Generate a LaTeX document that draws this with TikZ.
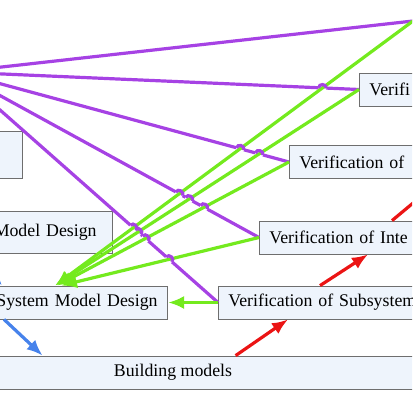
\documentclass[tikz,border=0pt]{standalone}
\usepackage{fontspec}
\setmainfont{Liberation Serif}
\usetikzlibrary{shapes,arrows.meta,calc,intersections}
\definecolor{vpurple}{RGB}{166,66,228}
\definecolor{vgreen}{RGB}{116,234,30}
\definecolor{vblue}{RGB}{70,130,235}
\definecolor{vred}{RGB}{235,20,20}
\definecolor{boxfill}{RGB}{238,244,252}
\definecolor{boxgray}{RGB}{110,110,110}
\tikzstyle{line} = [draw, line width=3.2pt, -{Latex[length=16pt,width=13pt]}]
\tikzstyle{trace} = [draw, vpurple, line width=3.2pt]
\tikzstyle{block} = [draw=boxgray, line width=0.8pt, fill=boxfill, rectangle, minimum height=33pt, font=\fontsize{17.8}{20}\selectfont]
\tikzstyle{vblock} = [block, anchor=west, text width=240pt, inner xsep=10pt, align=left]
\tikzstyle{dblock} = [block, anchor=east, text width=280pt, inner xsep=10pt, align=right]

\begin{document}
\begin{tikzpicture}[x=1pt, y=-1pt]
        \useasboundingbox (0,0) rectangle (412,412);
        \clip (0,0) rectangle (412,412);
        % design side
        \node[dblock, minimum height=47pt, text width=100pt] (req) at (23,154.5) {};
        \node[dblock, minimum height=42pt, inner xsep=16pt] (mdes) at (113,232) {Model Design};
        \node[dblock] (sysd) at (168,302.5) {System Model Design};
        \node[block, minimum width=600pt] (build) at (173,372.5) {Building models};
        % verification side
        \node[vblock] (vreq) at (359,89.5) {Verifi};
        \node[vblock] (vfun) at (289,162) {Verification of};
        \node[vblock] (vint) at (259,237.5) {Verification of Inte};
        \node[vblock] (vsub) at (218,302.5) {Verification of Subsystem};
        \coordinate (src) at (-43,72);
        \coordinate (vtop) at (413,21);
        \coordinate (t1) at ([xshift=-113pt]sysd.north east);
        \coordinate (t3) at ([xshift=-111pt]sysd.north east);
        \coordinate (t4) at ([xshift=-107pt]sysd.north east);
        % trace links
        \foreach \s/\t/\n in {vtop/t1/g1, vreq.west/t1/g2, vfun.west/t3/g3, vint.west/t4/g4}
            \path[name path global=\n] (\s) -- (\t);
        \foreach \t/\n in {vtop/p1, vreq.west/p2, vfun.west/p3, vint.west/p4, vsub.west/p5}
            \path[trace, name path global=\n] (src) -- (\t);
        \foreach \p/\g [count=\i] in {p2/g1, p3/g1, p3/g2, p4/g1, p4/g2, p4/g3, p5/g1, p5/g2, p5/g3, p5/g4} {
            \path[name intersections={of={\p} and {\g}, by=h\i}];
            \draw[white, line width=4.5pt] ($(h\i)!3.8pt!(src)$) -- ($(h\i)!-3.8pt!(src)$);
        }
        % feedback
        \foreach \s/\t in {vtop/t1, vreq.west/t1, vfun.west/t3, vint.west/t4}
            \path[line, vgreen] (\s) -- (\t);
        \path[line, vgreen] (vsub.west) -- (sysd.east);
        \foreach \i in {1,...,10}
            \path[trace] ($(h\i)!3.8pt!(src)$) to[bend left=90, looseness=1.5] ($(h\i)!-3.8pt!(src)$);
        % down and up
        \path[line, vblue] ([xshift=-135pt]mdes.south east) -- ([xshift=-166pt]sysd.north east);
        \path[line, vblue] ([xshift=-164pt]sysd.south east) -- ([xshift=170pt]build.north west);
        \path[line, vred] ([xshift=363pt]build.north west) -- ([xshift=70pt]vsub.south west);
        \path[line, vred] ([xshift=102pt]vsub.north west) -- ([xshift=109pt]vint.south west);
        \path[line, vred] ([xshift=133pt]vint.north west) -- ([xshift=153pt]vfun.south west);
\end{tikzpicture}
\end{document}
